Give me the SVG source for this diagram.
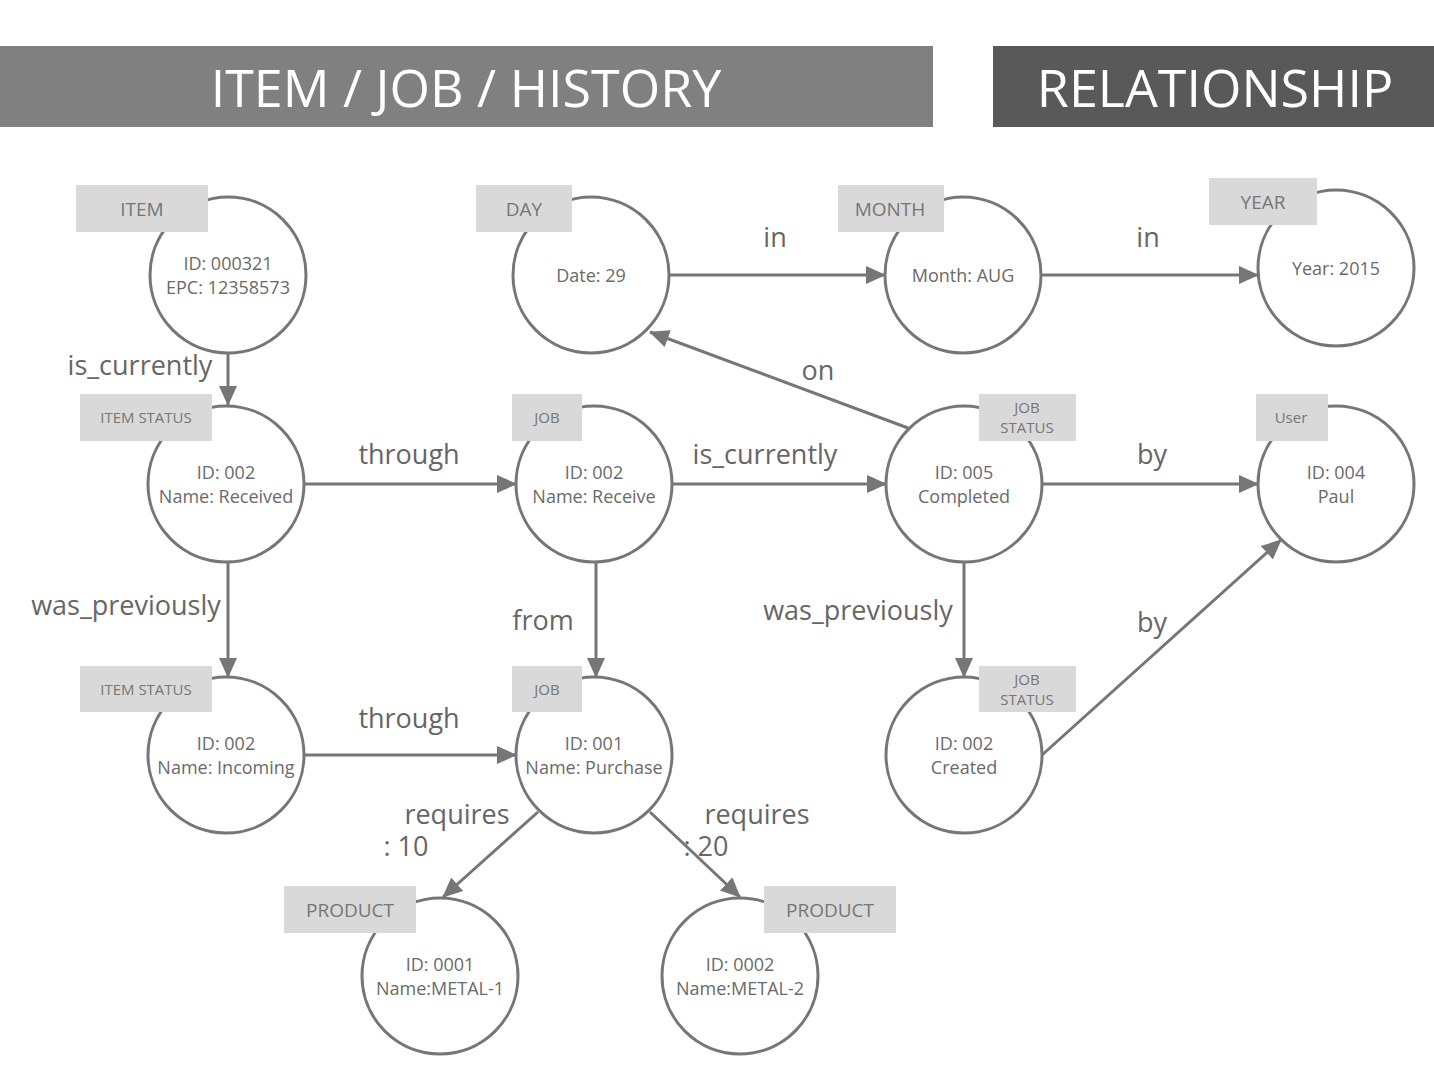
<svg xmlns="http://www.w3.org/2000/svg" width="1434" height="1075" viewBox="0 0 1434 1075">
<defs>
<style>
.c{fill:#fff;stroke:#767676;stroke-width:3}
.b{fill:#d9d9d9}
.bl{font-family:"Open Sans","Liberation Sans",sans-serif;font-size:19px;fill:#767676;text-anchor:middle}
.sl{font-family:"Open Sans","Liberation Sans",sans-serif;font-size:15px;fill:#767676;text-anchor:middle}
.t{font-family:"Open Sans","Liberation Sans",sans-serif;font-size:18px;fill:#6a6a6a;text-anchor:middle}
.e{font-family:"Open Sans","Liberation Sans",sans-serif;font-size:27px;fill:#666;text-anchor:middle}
.h{font-family:"Open Sans","Liberation Sans",sans-serif;font-size:52px;fill:#fff;text-anchor:middle}
.l{stroke:#767676;stroke-width:3;fill:none;marker-end:url(#a)}
</style>
<marker id="a" markerUnits="userSpaceOnUse" markerWidth="20" markerHeight="18" refX="19" refY="9" orient="auto"><path d="M0,0L20,9L0,18z" fill="#767676"/></marker>
</defs>
<rect x="0" y="46" width="933" height="81" fill="#808080"/>
<text class="h" x="466" y="107">ITEM / JOB / HISTORY</text>
<rect x="993" y="46" width="441" height="81" fill="#595959"/>
<text class="h" x="1215" y="107">RELATIONSHIP</text>
<g id="connectors">
<line class="l" x1="228" y1="353" x2="228" y2="405"/>
<line class="l" x1="669" y1="275" x2="885" y2="275"/>
<line class="l" x1="1041" y1="275" x2="1258" y2="275"/>
<line class="l" x1="908" y1="428" x2="650" y2="332"/>
<line class="l" x1="304" y1="484" x2="516" y2="484"/>
<line class="l" x1="672" y1="484" x2="886" y2="484"/>
<line class="l" x1="1042" y1="484" x2="1258" y2="484"/>
<line class="l" x1="228" y1="562" x2="228" y2="677"/>
<line class="l" x1="596" y1="562" x2="596" y2="677"/>
<line class="l" x1="964" y1="562" x2="964" y2="677"/>
<line class="l" x1="1042" y1="755" x2="1281" y2="540"/>
<line class="l" x1="304" y1="755" x2="516" y2="755"/>
<line class="l" x1="538" y1="812" x2="443" y2="897"/>
<line class="l" x1="650" y1="812" x2="740" y2="897"/>
<text class="e" x="140" y="375">is_currently</text>
<text class="e" x="775" y="247">in</text>
<text class="e" x="1148" y="247">in</text>
<text class="e" x="818" y="380">on</text>
<text class="e" x="409" y="464">through</text>
<text class="e" x="765" y="464">is_currently</text>
<text class="e" x="1152" y="464">by</text>
<text class="e" x="126" y="615">was_previously</text>
<text class="e" x="543" y="630">from</text>
<text class="e" x="858" y="620">was_previously</text>
<text class="e" x="1152" y="632">by</text>
<text class="e" x="409" y="728">through</text>
<text class="e" x="457" y="824">requires</text>
<text class="e" x="406" y="856" text-anchor="start">: 10</text>
<text class="e" x="757" y="824">requires</text>
<text class="e" x="706" y="856" text-anchor="start">: 20</text>
</g>
<g id="item"><circle class="c" cx="228" cy="275" r="78"/><rect class="b" x="76" y="185" width="132" height="47"/><text class="bl" x="142" y="216">ITEM</text><text class="t" x="228" y="270">ID: 000321</text><text class="t" x="228" y="294">EPC: 12358573</text></g>
<g id="day"><circle class="c" cx="591" cy="275" r="78"/><rect class="b" x="476" y="185" width="96" height="47"/><text class="bl" x="524" y="216">DAY</text><text class="t" x="591" y="282">Date: 29</text></g>
<g id="month"><circle class="c" cx="963" cy="275" r="78"/><rect class="b" x="838" y="185" width="106" height="47"/><text class="bl" x="890" y="216">MONTH</text><text class="t" x="963" y="282">Month: AUG</text></g>
<g id="year"><circle class="c" cx="1336" cy="268" r="78"/><rect class="b" x="1209" y="178" width="108" height="47"/><text class="bl" x="1263" y="209">YEAR</text><text class="t" x="1336" y="275">Year: 2015</text></g>
<g id="itemstatus1"><circle class="c" cx="226" cy="484" r="78"/><rect class="b" x="80" y="394" width="132" height="47"/><text class="sl" x="146" y="423">ITEM STATUS</text><text class="t" x="226" y="479">ID: 002</text><text class="t" x="226" y="503">Name: Received</text></g>
<g id="job1"><circle class="c" cx="594" cy="484" r="78"/><rect class="b" x="512" y="394" width="70" height="47"/><text class="sl" x="547" y="423">JOB</text><text class="t" x="594" y="479">ID: 002</text><text class="t" x="594" y="503">Name: Receive</text></g>
<g id="jobstatus1"><circle class="c" cx="964" cy="484" r="78"/><rect class="b" x="979" y="394" width="97" height="47"/><text class="sl" x="1027" y="413">JOB</text><text class="sl" x="1027" y="433">STATUS</text><text class="t" x="964" y="479">ID: 005</text><text class="t" x="964" y="503">Completed</text></g>
<g id="user"><circle class="c" cx="1336" cy="484" r="78"/><rect class="b" x="1256" y="394" width="72" height="47"/><text class="sl" x="1291" y="423">User</text><text class="t" x="1336" y="479">ID: 004</text><text class="t" x="1336" y="503">Paul</text></g>
<g id="itemstatus2"><circle class="c" cx="226" cy="755" r="78"/><rect class="b" x="80" y="666" width="132" height="46"/><text class="sl" x="146" y="695">ITEM STATUS</text><text class="t" x="226" y="750">ID: 002</text><text class="t" x="226" y="774">Name: Incoming</text></g>
<g id="job2"><circle class="c" cx="594" cy="755" r="78"/><rect class="b" x="512" y="666" width="70" height="46"/><text class="sl" x="547" y="695">JOB</text><text class="t" x="594" y="750">ID: 001</text><text class="t" x="594" y="774">Name: Purchase</text></g>
<g id="jobstatus2"><circle class="c" cx="964" cy="755" r="78"/><rect class="b" x="979" y="666" width="97" height="46"/><text class="sl" x="1027" y="685">JOB</text><text class="sl" x="1027" y="705">STATUS</text><text class="t" x="964" y="750">ID: 002</text><text class="t" x="964" y="774">Created</text></g>
<g id="product1"><circle class="c" cx="440" cy="976" r="78"/><rect class="b" x="284" y="886" width="132" height="47"/><text class="bl" x="350" y="917">PRODUCT</text><text class="t" x="440" y="971">ID: 0001</text><text class="t" x="440" y="995">Name:METAL-1</text></g>
<g id="product2"><circle class="c" cx="740" cy="976" r="78"/><rect class="b" x="764" y="886" width="132" height="47"/><text class="bl" x="830" y="917">PRODUCT</text><text class="t" x="740" y="971">ID: 0002</text><text class="t" x="740" y="995">Name:METAL-2</text></g>
</svg>
